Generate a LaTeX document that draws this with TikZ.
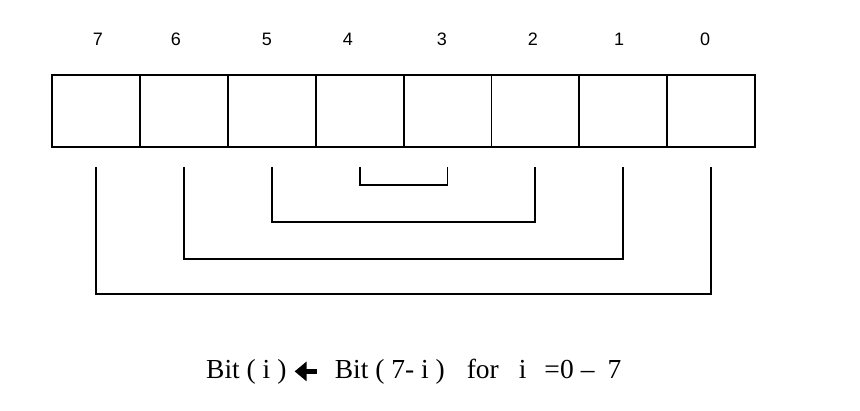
\documentclass[tikz,border=0pt]{standalone}
\usepackage{fontspec}
\setmainfont{Liberation Serif}
\newfontfamily\numfont{Liberation Sans}
\usetikzlibrary{arrows.meta,positioning}

\begin{document}
\begin{tikzpicture}[x=1pt,y=1pt,node distance=87.9pt]

\tikzstyle{cell} = [rectangle, minimum width=87.9pt, minimum height=72pt, inner sep=0pt, draw=black, line width=1.9pt]
\tikzstyle{num} = [font=\numfont\fontsize{18}{20}\selectfont, inner sep=0pt]
\tikzstyle{txt} = [font=\fontsize{27.5}{30}\selectfont, inner sep=0pt]
\tikzstyle{brk} = [line width=1.9pt]
\tikzstyle{fat} = [line width=5pt, -{Triangle[length=12pt,width=19pt]}]

\useasboundingbox (0,0) rectangle (860,-410);

\node (c7) [cell] at (95.94,-111) {};
\node (c6) [cell, right of=c7] {};
\node (c5) [cell, right of=c6] {};
\node (c4) [cell, right of=c5] {};
\node (c3) [cell, right of=c4] {};
\node (c2) [cell, right of=c3] {};
\node (c1) [cell, right of=c2] {};
\node (c0) [cell, right of=c1] {};

\node (n7) [num] at (98,-39) {7};
\node (n6) [num] at (176,-39) {6};
\node (n5) [num] at (267,-39) {5};
\node (n4) [num] at (348,-39) {4};
\node (n3) [num] at (442,-39) {3};
\node (n2) [num] at (533,-39) {2};
\node (n1) [num] at (619,-39) {1};
\node (n0) [num] at (705,-39) {0};

% swap pairs
\draw [brk] ([yshift=-19pt]c4.south) -- ++(0,-18) -| ([yshift=-19pt]c3.south);
\draw [brk] ([yshift=-19pt]c5.south) -- ++(0,-55) -| ([yshift=-19pt]c2.south);
\draw [brk] ([yshift=-19pt]c6.south) -- ++(0,-92) -| ([yshift=-19pt]c1.south);
\draw [brk] ([yshift=-19pt]c7.south) -- ++(0,-127) -| ([yshift=-19pt]c0.south);

\node (lhs) [txt, anchor=base west] at (206,-378) {Bit ( i )};
\node (rhs) [txt, right=48pt of lhs] {Bit ( 7- i )\hspace{22pt}for\hspace{20pt}i\hspace{18pt}=0\hspace{7pt}–\hspace{13pt}7};
\draw [fat] ([xshift=-18pt]rhs.west) -- ([xshift=8pt]lhs.east);
\end{tikzpicture}
\end{document}
